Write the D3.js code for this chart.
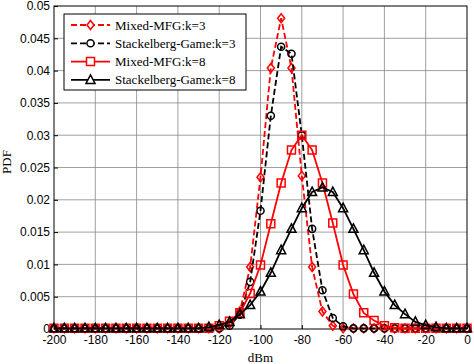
<!DOCTYPE html>
<html lang="en">
<head>
<meta charset="utf-8">
<title>PDF vs dBm</title>
<script src="https://d3js.org/d3.v7.min.js"></script>
<style>
  body { margin: 0; background: #fff; }
  .tick text { font-family: "Liberation Sans", Arial, sans-serif; font-size: 12px; fill: #000; }
  .lab { font-family: "Liberation Serif", "Times New Roman", serif; font-size: 13px; fill: #000; }
</style>
</head>
<body>
<script>
var width = 474, height = 364;
var margin = {left: 54, right: 7, top: 6, bottom: 35};

// dBm sample points, every 5 dBm from -200 to 0
var dbm = d3.range(-200, 1, 5);

var seriesNames = ["Mixed-MFG:k=3", "Stackelberg-Game:k=3", "Mixed-MFG:k=8", "Stackelberg-Game:k=8"];

// values (one per dbm point)
var mixedK3 = [0.0001, 0.0001, 0.0001, 0.0001, 0.0001, 0.0001, 0.0001, 0.0001, 0.0001, 0.0001,
  0.0001, 0.0001, 0.0001, 0.0001, 0.0001, 0.0001, 0.0001, 0.0008, 0.0027, 0.0096,
  0.0235, 0.0404, 0.0481, 0.0404, 0.0237, 0.0096, 0.0027, 0.0005, 0.0001, 0.0001,
  0.0001, 0.0001, 0.0001, 0.0001, 0.0001, 0.0001, 0.0001, 0.0001, 0.0001, 0.0001, 0.0001];
var stackK3 = [0.0001, 0.0001, 0.0001, 0.0001, 0.0001, 0.0001, 0.0001, 0.0001, 0.0001, 0.0001,
  0.0001, 0.0001, 0.0001, 0.0001, 0.0001, 0.0001, 0.0001, 0.0005, 0.0022, 0.0073,
  0.0183, 0.0330, 0.0437, 0.0426, 0.0300, 0.0155, 0.0060, 0.0017, 0.0004, 0.0001,
  0.0001, 0.0001, 0.0001, 0.0001, 0.0001, 0.0001, 0.0001, 0.0001, 0.0001, 0.0001, 0.0001];
var mixedK8 = [0.0001, 0.0001, 0.0001, 0.0001, 0.0001, 0.0001, 0.0001, 0.0001, 0.0001, 0.0001,
  0.0001, 0.0001, 0.0001, 0.0001, 0.0001, 0.0001, 0.0005, 0.0012, 0.0025, 0.0055,
  0.0099, 0.0163, 0.0226, 0.0277, 0.0300, 0.0277, 0.0226, 0.0164, 0.0099, 0.0054,
  0.0025, 0.0013, 0.0005, 0.0002, 0.0001, 0.0001, 0.0001, 0.0001, 0.0001, 0.0001, 0.0001];
var stackK8 = [0.0001, 0.0001, 0.0001, 0.0001, 0.0001, 0.0001, 0.0001, 0.0001, 0.0001, 0.0001,
  0.0001, 0.0001, 0.0001, 0.0001, 0.0001, 0.0003, 0.0006, 0.0011, 0.0023, 0.0037,
  0.0058, 0.0087, 0.0122, 0.0155, 0.0187, 0.0212, 0.0219, 0.0212, 0.0187, 0.0155,
  0.0122, 0.0087, 0.0058, 0.0037, 0.0023, 0.0011, 0.0006, 0.0003, 0.0001, 0.0001, 0.0001];

var xTicks = d3.range(-200, 1, 20);
var yTicks = d3.range(0, 0.0501, 0.005);
var yTickLabels = ["0", "0.005", "0.01", "0.015", "0.02", "0.025", "0.03", "0.035", "0.04", "0.045", "0.05"];

var styles = [
  {color: "#f00", dash: "6,3", marker: "diamond", values: mixedK3},
  {color: "#000", dash: "6,3", marker: "circle", values: stackK3},
  {color: "#f00", dash: null, marker: "square", values: mixedK8},
  {color: "#000", dash: null, marker: "triangle", values: stackK8}
];

var svg = d3.select("body").append("svg")
  .attr("width", width).attr("height", height);

var x = d3.scaleLinear().domain([-200, 0]).range([margin.left, width - margin.right]);
var y = d3.scaleLinear().domain([0, 0.05]).range([height - margin.bottom, margin.top]);

// grid
svg.append("g").selectAll("line").data(xTicks.slice(1, -1)).enter().append("line")
  .attr("x1", function(d) { return x(d); }).attr("x2", function(d) { return x(d); })
  .attr("y1", y(0)).attr("y2", y(0.05))
  .attr("stroke", "#888").attr("stroke-width", 0.8);
svg.append("g").selectAll("line").data(yTicks.slice(1, -1)).enter().append("line")
  .attr("x1", x(-200)).attr("x2", x(0))
  .attr("y1", function(d) { return y(d); }).attr("y2", function(d) { return y(d); })
  .attr("stroke", "#888").attr("stroke-width", 0.8);

// axes
var xAxis = d3.axisBottom(x).tickValues(xTicks).tickSize(-4).tickPadding(6)
  .tickFormat(function(d) { return d; });
var yAxis = d3.axisLeft(y).tickValues(yTicks).tickSize(-4).tickPadding(4)
  .tickFormat(function(d, i) { return yTickLabels[i]; });

svg.append("g").attr("transform", "translate(0," + y(0) + ")").call(xAxis)
  .call(function(g) { g.select(".domain").remove(); });
svg.append("g").attr("transform", "translate(" + x(-200) + ",0)").call(yAxis)
  .call(function(g) { g.select(".domain").remove(); });

svg.append("rect")
  .attr("x", x(-200)).attr("y", y(0.05))
  .attr("width", x(0) - x(-200)).attr("height", y(0) - y(0.05))
  .attr("fill", "none").attr("stroke", "#000").attr("stroke-width", 1);

// marker shapes
function markerPath(type) {
  if (type === "diamond") return "M0,-4.5L3.5,0L0,4.5L-3.5,0Z";
  if (type === "square") return "M-4,-4H4V4H-4Z";
  if (type === "triangle") return "M0,-5L4.5,3.5H-4.5Z";
  return d3.symbol().type(d3.symbolCircle).size(40)();
}

var line = d3.line()
  .x(function(d, i) { return x(dbm[i]); })
  .y(function(d) { return y(d); });

styles.forEach(function(s) {
  var g = svg.append("g");
  g.append("path").datum(s.values)
    .attr("d", line)
    .attr("fill", "none")
    .attr("stroke", s.color)
    .attr("stroke-width", 1.8)
    .attr("stroke-dasharray", s.dash);
  g.selectAll("path.m").data(s.values).enter().append("path")
    .attr("class", "m")
    .attr("d", markerPath(s.marker))
    .attr("transform", function(d, i) { return "translate(" + x(dbm[i]) + "," + y(d) + ")"; })
    .attr("fill", "none")
    .attr("stroke", s.color)
    .attr("stroke-width", 1.5);
});

// legend
var lg = svg.append("g").attr("transform", "translate(64,14)");
lg.append("rect").attr("width", 182).attr("height", 76)
  .attr("fill", "#fff").attr("stroke", "#000").attr("stroke-width", 1);
styles.forEach(function(s, i) {
  var ry = 11 + i * 18.3;
  lg.append("line").attr("x1", 7).attr("x2", 46).attr("y1", ry).attr("y2", ry)
    .attr("stroke", s.color).attr("stroke-width", 1.8).attr("stroke-dasharray", s.dash);
  lg.append("path").attr("d", markerPath(s.marker))
    .attr("transform", "translate(26.5," + ry + ")")
    .attr("fill", "#fff").attr("stroke", s.color).attr("stroke-width", 1.5);
  lg.append("text").attr("class", "lab").attr("x", 51).attr("y", ry + 4.5).text(seriesNames[i]);
});

// axis labels
svg.append("text").attr("class", "lab").attr("text-anchor", "middle")
  .attr("x", (x(-200) + x(0)) / 2).attr("y", 362).text("dBm");
svg.append("text").attr("class", "lab").attr("text-anchor", "middle")
  .attr("transform", "translate(11,162) rotate(-90)").text("PDF");
</script>
</body>
</html>
